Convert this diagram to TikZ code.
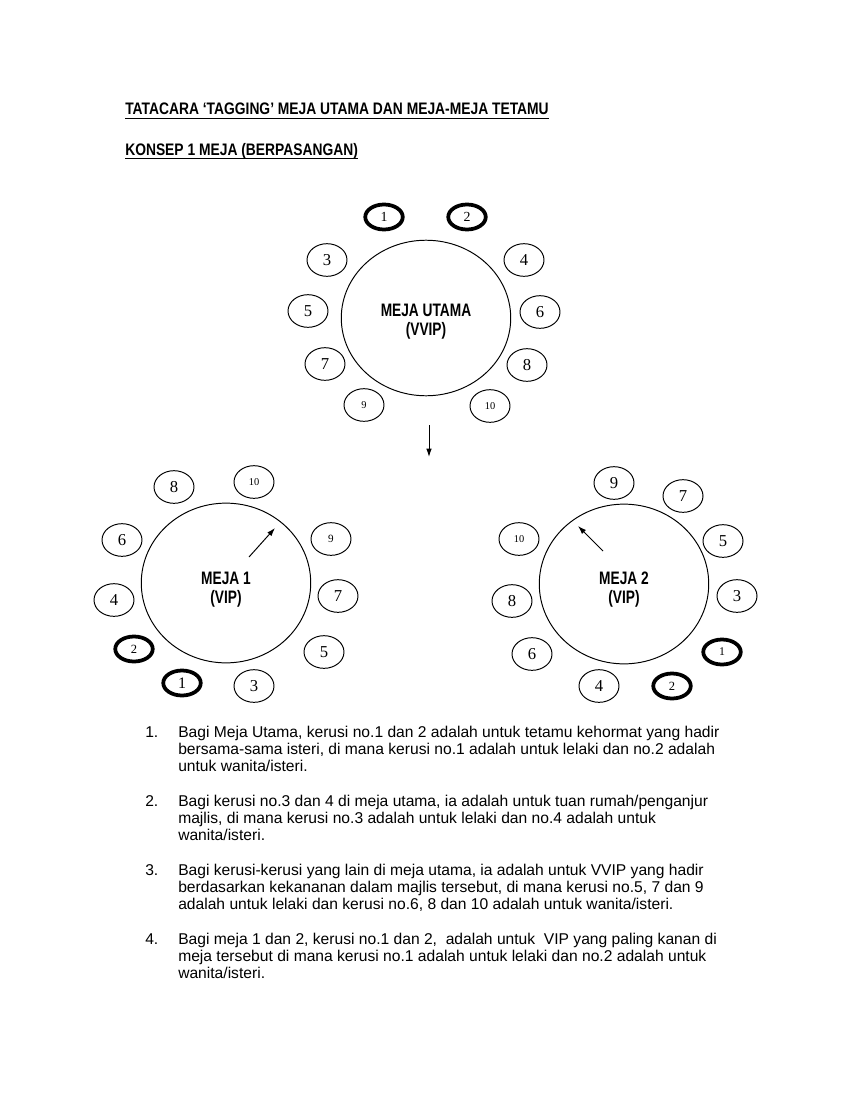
\documentclass[tikz,border=0pt]{standalone}
\usepackage{fontspec}
\setmainfont{Liberation Serif}
\newfontfamily\arialfont{Liberation Sans}
\newfontfamily\narrowfont[FakeStretch=0.83]{Liberation Sans}
\newfontfamily\mejafont[FakeStretch=0.76]{Liberation Sans}
\usetikzlibrary{shapes.geometric, arrows.meta}

\begin{document}
\begin{tikzpicture}[
		x=0.72pt, y=-0.72pt,
		meja/.style={ellipse, draw, line width=0.7pt, minimum width=122pt, minimum height=115pt, inner sep=0pt},
		nama/.style={align=center, inner sep=0pt, font=\mejafont\bfseries\fontsize{13}{13.7}\selectfont},
		kerusi/.style={ellipse, draw, line width=0.7pt, minimum width=28.8pt, minimum height=23.5pt, inner sep=0pt, font=\fontsize{#1}{#1}\selectfont},
		kerusi/.default=12,
		tetamu/.style={kerusi=#1, line width=2.7pt, minimum width=27pt, minimum height=18pt},
		tetamu/.default=10,
		tajuk/.style={font=\narrowfont\bfseries\fontsize{12}{14}\selectfont, anchor=base west, inner sep=0pt},
		garis/.style={line width=0.7pt},
		nota/.style={font=\arialfont\fontsize{11.25}{12.4}\selectfont, anchor=base west, align=left, inner sep=0pt},
		arah/.style={-{Latex[length=6pt, width=4pt]}, line width=0.7pt}
		]
		\useasboundingbox (0,0) rectangle (850,1100);
		
		% Titles
		\node[tajuk] (tajuk1) at (125,115) {TATACARA ‘TAGGING’ MEJA UTAMA DAN MEJA-MEJA TETAMU};
		\draw[garis] ([yshift=-2.2pt]tajuk1.base west) -- ([yshift=-2.2pt]tajuk1.base east);
		\node[tajuk] (tajuk2) at (125,155) {KONSEP 1 MEJA (BERPASANGAN)};
		\draw[garis] ([yshift=-2.2pt]tajuk2.base west) -- ([yshift=-2.2pt]tajuk2.base east);
		
		% Main table
		\node[meja, minimum height=112pt] (utama) at (426,318) {};
		\node[nama] (utamaNama) at ([yshift=-2.9pt]utama.center) {MEJA UTAMA\\(VVIP)};
		\node[tetamu] (u1) at (384,217) {1};
		\node[tetamu] (u2) at (467,217) {2};
		\node[kerusi] (u3) at (327,260) {3};
		\node[kerusi] (u4) at (524,260) {4};
		\node[kerusi] (u5) at (308,311) {5};
		\node[kerusi] (u6) at (540,312) {6};
		\node[kerusi] (u7) at (325,364) {7};
		\node[kerusi] (u8) at (527,365) {8};
		\node[kerusi=7.5] (u9) at (364,405) {9};
		\node[kerusi=7.5] (u10) at (490,406) {10};
		
		\coordinate (turunA) at (429,425);
		\coordinate (turunB) at (429,457);
		\draw[arah] (turunA) -- (turunB);
		
		% Table 1
		\node[meja] (meja1) at (226,583) {};
		\node[nama] (meja1Nama) at ([yshift=-5pt]meja1.center) {MEJA 1\\(VIP)};
		\node[kerusi] (a8) at (174,487) {8};
		\node[kerusi=7.5] (a10) at (254,482) {10};
		\node[kerusi] (a6) at (122,540) {6};
		\node[kerusi=8] (a9) at (331,539) {9};
		\node[kerusi] (a4) at (114,600) {4};
		\node[kerusi] (a7) at (338,596) {7};
		\node[tetamu=9] (a2) at (134,649) {2};
		\node[kerusi] (a5) at (324,652) {5};
		\node[tetamu=11.5] (a1) at (182,683) {1};
		\node[kerusi] (a3) at (254,686) {3};
		
		\coordinate (pusing1A) at (249,557);
		\coordinate (pusing1B) at (275,528);
		\draw[arah] (pusing1A) -- (pusing1B);
		
		% Table 2
		\node[meja] (meja2) at (624,584) {};
		\node[nama] (meja2Nama) at ([yshift=-4.3pt]meja2.center) {MEJA 2\\(VIP)};
		\node[kerusi] (b9) at (614,483) {9};
		\node[kerusi] (b7) at (683,496) {7};
		\node[kerusi=7.5] (b10) at (519,539) {10};
		\node[kerusi] (b5) at (723,541) {5};
		\node[kerusi] (b8) at (512,601) {8};
		\node[kerusi] (b3) at (737,596) {3};
		\node[kerusi] (b6) at (532,654) {6};
		\node[tetamu=8.5] (b1) at (722,652) {1};
		\node[kerusi] (b4) at (599,686) {4};
		\node[tetamu=9] (b2) at (672,686) {2};
		
		\coordinate (pusing2A) at (603,551);
		\coordinate (pusing2B) at (578,526);
		\draw[arah] (pusing2A) -- (pusing2B);
		
		% Notes (base west = baseline of the last line)
		\node[nota] (n1) at (145,737) {1.};
		\node[nota] (t1) at (178,771.5) {Bagi Meja Utama, kerusi no.1 dan 2 adalah untuk tetamu kehormat yang hadir\\bersama-sama isteri, di mana kerusi no.1 adalah untuk lelaki dan no.2 adalah\\untuk wanita/isteri.};
		\node[nota] (n2) at (145,806) {2.};
		\node[nota] (t2) at (178,840.5) {Bagi kerusi no.3 dan 4 di meja utama, ia adalah untuk tuan rumah/penganjur\\majlis, di mana kerusi no.3 adalah untuk lelaki dan no.4 adalah untuk\\wanita/isteri.};
		\node[nota] (n3) at (145,875) {3.};
		\node[nota] (t3) at (178,909.5) {Bagi kerusi-kerusi yang lain di meja utama, ia adalah untuk VVIP yang hadir\\berdasarkan kekananan dalam majlis tersebut, di mana kerusi no.5, 7 dan 9\\adalah untuk lelaki dan kerusi no.6, 8 dan 10 adalah untuk wanita/isteri.};
		\node[nota] (n4) at (145,944) {4.};
		\node[nota] (t4) at (178,978.5) {Bagi meja 1 dan 2, kerusi no.1 dan 2, \ adalah untuk \ VIP yang paling kanan di\\meja tersebut di mana kerusi no.1 adalah untuk lelaki dan no.2 adalah untuk\\wanita/isteri.};
		
	\end{tikzpicture}
\end{document}
